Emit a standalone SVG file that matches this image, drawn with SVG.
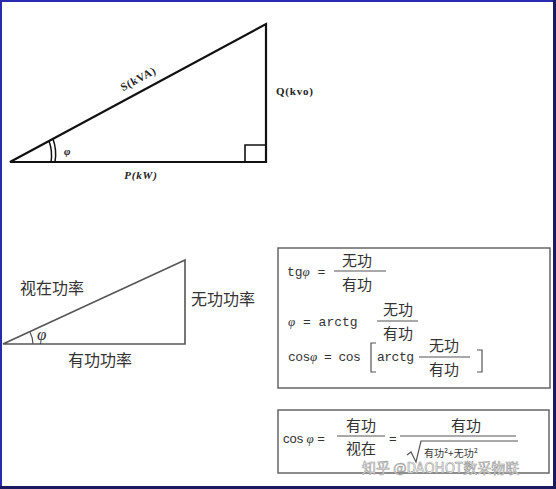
<svg xmlns="http://www.w3.org/2000/svg" width="556" height="489" viewBox="0 0 556 489">
<style>
.ln{stroke:#111;fill:none}
.thick{stroke-width:2.2}
.lab{font-family:"Liberation Serif",serif;font-weight:bold;font-size:11px;letter-spacing:0.8px;fill:#222}
.cn{font-family:"Noto Sans CJK SC","Liberation Sans",sans-serif;fill:#333}
.f{font-family:"Liberation Mono",monospace;font-size:13px;fill:#333}
.box{fill:#fff;stroke:#666;stroke-width:1.5}
.thin{stroke:#555;stroke-width:1.2;fill:none}
</style>
<rect x="0" y="0" width="556" height="489" fill="#fff"/>
<rect x="1" y="1" width="553" height="486" fill="none" stroke="#2a2ab0" stroke-width="2"/>
<rect x="553" y="0" width="3" height="489" fill="#1a1a60"/>
<rect x="0" y="486" width="556" height="3" fill="#1a1a60"/>

<g id="triangle1">
<polygon class="ln thick" points="10,162 266,24 266,162"/>
<polyline class="ln" stroke-width="1.6" points="245,162 245,145 266,145"/>
<path class="ln" stroke-width="1.5" d="M49,141 A41,41 0 0 1 51,162"/>
<path class="ln" stroke-width="1.5" d="M53,139 A45,45 0 0 1 55,162"/>
<text class="lab" x="64" y="155" font-size="13" font-style="italic">φ</text>
<text class="lab" transform="translate(140,82) rotate(-28.3)" text-anchor="middle">S(kVA)</text>
<text class="lab" x="276" y="95">Q(kvo)</text>
<text class="lab" x="141" y="179" text-anchor="middle" font-style="italic">P(kW)</text>
</g>

<g id="triangle2">
<polygon fill="none" stroke="#555" stroke-width="1.6" points="3,344 185,260 185,344"/>
<path class="thin" d="M30,332 A30,30 0 0 1 33,344"/>
<text x="37" y="340" font-family="Liberation Serif,serif" font-style="italic" font-size="17" fill="#333">φ</text>
<text class="cn" x="20" y="294" font-size="16">视在功率</text>
<text class="cn" x="191" y="305" font-size="16">无功功率</text>
<text class="cn" x="68" y="366" font-size="16">有功功率</text>
</g>

<g id="formulas1">
<rect class="box" x="278" y="248" width="272" height="140"/>
<text class="f" x="287" y="276">tg<tspan font-family="Liberation Serif,serif" font-style="italic">φ</tspan> =</text>
<line class="thin" x1="334" y1="271" x2="386" y2="271"/>
<text class="cn" x="357" y="266" font-size="15" text-anchor="middle">无功</text>
<text class="cn" x="357" y="290" font-size="15" text-anchor="middle">有功</text>

<text class="f" x="288" y="326"><tspan font-family="Liberation Serif,serif" font-style="italic">φ</tspan> = arctg</text>
<line class="thin" x1="377" y1="321" x2="418" y2="321"/>
<text class="cn" x="398" y="315" font-size="15" text-anchor="middle">无功</text>
<text class="cn" x="398" y="339" font-size="15" text-anchor="middle">有功</text>

<text class="f" x="288" y="361" letter-spacing="-0.5">cos<tspan font-family="Liberation Serif,serif" font-style="italic">φ</tspan> = cos</text>
<path class="thin" d="M376,343 L371,343 L371,372 L376,372"/>
<text class="f" x="377" y="361" letter-spacing="-0.5">arctg</text>
<line class="thin" x1="419" y1="357" x2="470" y2="357"/>
<text class="cn" x="444" y="351" font-size="15" text-anchor="middle">无功</text>
<text class="cn" x="444" y="375" font-size="15" text-anchor="middle">有功</text>
<path class="thin" d="M477,350 L482,350 L482,372 L477,372"/>
</g>

<g id="formulas2">
<rect class="box" x="278" y="410" width="271" height="63"/>
<text x="283" y="443" font-family="Liberation Sans,sans-serif" font-size="13" fill="#333">cos<tspan font-family="Liberation Serif,serif" font-style="italic"> φ</tspan> =</text>
<line class="thin" x1="337" y1="436" x2="385" y2="436"/>
<text class="cn" x="361" y="431" font-size="15" text-anchor="middle">有功</text>
<text class="cn" x="361" y="454" font-size="15" text-anchor="middle">视在</text>
<text x="389" y="443" font-family="Liberation Sans,sans-serif" font-size="13" fill="#333">=</text>
<line class="thin" x1="400" y1="436" x2="516" y2="436"/>
<text class="cn" x="466" y="431" font-size="15" text-anchor="middle">有功</text>
<path class="thin" d="M407,455 L411,452 L416,462 L421,441 L518,441"/>
<text class="cn" x="424" y="457" font-size="10">有功²+无功²</text>
<text x="362" y="473" font-family="Noto Sans CJK SC,Liberation Sans,sans-serif" font-size="14" fill="#fff" stroke="#9a9a9a" stroke-width="0.6">知乎 @DAOHOT数采物联</text>
</g>
</svg>
